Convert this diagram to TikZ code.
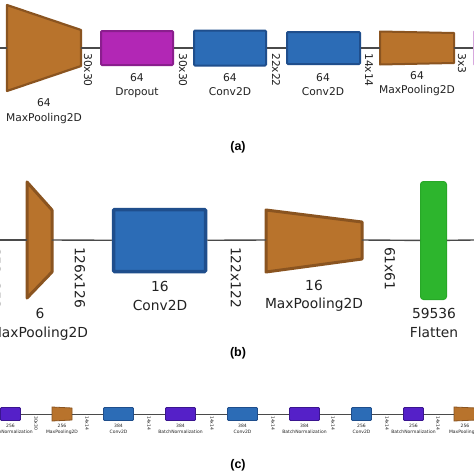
\documentclass[tikz,border=0pt]{standalone}
\usepackage{fontspec}
\setmainfont{DejaVu Sans}
\newfontfamily\capfont{Liberation Sans}
\definecolor{poolfill}{HTML}{B8732C}
\definecolor{pooldraw}{HTML}{8A5420}
\definecolor{convfill}{HTML}{2C6CB6}
\definecolor{convdraw}{HTML}{1F4E8C}
\definecolor{dropfill}{HTML}{B227B5}
\definecolor{dropdraw}{HTML}{8A1E8D}
\definecolor{flatfill}{HTML}{2DB52D}
\definecolor{flatdraw}{HTML}{28A828}
\definecolor{bnfill}{HTML}{5520C8}
\definecolor{bndraw}{HTML}{3A158F}
\definecolor{pinkfill}{HTML}{D8A8DE}
\definecolor{linegray}{HTML}{4A4A4A}
\definecolor{txt}{HTML}{222222}
\begin{document}
\begin{tikzpicture}[x=1pt,y=-1pt,
  lyr/.style={draw, inner sep=0pt, rounded corners=1pt},
  pool/.style={fill=poolfill, draw=pooldraw, line join=round},
  conv/.style={lyr, fill=convfill, draw=convdraw},
  drop/.style={lyr, fill=dropfill, draw=dropdraw},
  bn/.style={lyr, fill=bnfill, draw=bndraw},
  conA/.style={draw=linegray, line width=1.1pt},
  conB/.style={draw=linegray, line width=1.4pt},
  conC/.style={draw=linegray, line width=0.6pt},
  labA/.style={anchor=base, inner sep=0pt, text=txt, font=\fontsize{10.7}{12}\selectfont},
  labB/.style={anchor=base, inner sep=0pt, text=txt, font=\fontsize{13.8}{15}\selectfont},
  labC/.style={anchor=base, inner sep=0pt, text=txt, font=\fontsize{4.5}{5}\selectfont},
  dimA/.style={rotate=-90, anchor=west, inner sep=0pt, text=txt, font=\fontsize{10.7}{12}\selectfont},
  dimB/.style={rotate=-90, anchor=west, inner sep=0pt, text=txt, font=\fontsize{13.8}{15}\selectfont},
  dimC/.style={rotate=-90, anchor=west, inner sep=0pt, text=txt, font=\fontsize{4.5}{5}\selectfont},
  capt/.style={inner sep=0pt, font=\capfont\bfseries\fontsize{12.5}{14}\selectfont}]
\useasboundingbox (0,0) rectangle (474,474);
\fill[white] (0,0) rectangle (474,474);
\begin{scope}
\clip (0,0) rectangle (474,474);

% ---------------- panel (a) ----------------
\draw[pool, line width=2.2pt] (7,5) -- (81,30) -- (81,66) -- (7,91) -- cycle;
\coordinate (a1w) at (7,48);
\coordinate (a1e) at (81,48);
\node[drop, line width=2pt, minimum width=72pt, minimum height=34pt] (a2) at (137,48) {};
\node[conv, line width=2pt, minimum width=72pt, minimum height=35pt] (a3) at (230,48) {};
\node[conv, line width=2pt, minimum width=73pt, minimum height=32pt] (a4) at (323.5,48) {};
\draw[pool, line width=2pt] (380,31.5) -- (454,33) -- (454,63) -- (380,64.5) -- cycle;
\coordinate (a5w) at (380,48);
\coordinate (a5e) at (454,48);
\node[lyr, fill=pinkfill, draw=pinkfill, line width=2pt, minimum width=72pt, minimum height=34pt] (a6) at (510,48) {};
\coordinate (a0) at (0,48);
\draw[conA] (a0) -- (a1w);
\draw[conA] (a1e) -- (a2);
\draw[conA] (a2) -- (a3);
\draw[conA] (a3) -- (a4);
\draw[conA] (a4) -- (a5w);
\draw[conA] (a5e) -- (a6);

\node[dimA] (ad1) at (88,53) {30x30};
\node[dimA] (ad2) at (183,53) {30x30};
\node[dimA] (ad3) at (276,53) {22x22};
\node[dimA] (ad4) at (369,53) {14x14};
\node[dimA] (ad5) at (462,53) {3x3};

\node[labA] (a1t) at (44,106) {64};
\node[labA] (a1n) at (44,121) {MaxPooling2D};
\node[labA] (a2t) at (137,81) {64};
\node[labA] (a2n) at (137,95) {Dropout};
\node[labA] (a3t) at (230,81) {64};
\node[labA] (a3n) at (230,95) {Conv2D};
\node[labA] (a4t) at (323,81) {64};
\node[labA] (a4n) at (323,95) {Conv2D};
\node[labA] (a5t) at (417,79) {64};
\node[labA] (a5n) at (417,93) {MaxPooling2D};

\node[capt] (capa) at (238,147) {(a)};

% ---------------- panel (b) ----------------
\draw[pool, line width=3pt] (27,182) -- (52,210) -- (52,272) -- (27,298) -- cycle;
\coordinate (b1w) at (27,240);
\coordinate (b1e) at (52,240);
\node[conv, line width=3.5pt, minimum width=92pt, minimum height=62pt] (b2) at (159.5,240.5) {};
\draw[pool, line width=3pt] (266,210) -- (362,222) -- (362,259) -- (266,272) -- cycle;
\coordinate (b3w) at (266,240);
\coordinate (b3e) at (362,240);
\node[lyr, fill=flatfill, draw=flatdraw, line width=1pt, rounded corners=3pt, minimum width=26pt, minimum height=118pt] (b4) at (433.5,240.5) {};
\coordinate (b0) at (0,240);
\coordinate (b5) at (474,240);
\draw[conB] (b0) -- (b1w);
\draw[conB] (b1e) -- (b2);
\draw[conB] (b2) -- (b3w);
\draw[conB] (b3e) -- (b4);
\draw[conB] (b4) -- (b5);

\node[dimB, text=gray] (bd0) at (-4.5,248) {252x252};
\node[dimB] (bd1) at (80,247) {126x126};
\node[dimB] (bd2) at (236,247) {122x122};
\node[dimB] (bd3) at (390,247) {61x61};

\node[labB] (b1t) at (40,318) {6};
\node[labB] (b1n) at (39,337) {MaxPooling2D};
\node[labB] (b2t) at (160,291) {16};
\node[labB] (b2n) at (160,310) {Conv2D};
\node[labB] (b3t) at (314,290) {16};
\node[labB] (b3n) at (314,308) {MaxPooling2D};
\node[labB] (b4t) at (434,318) {59536};
\node[labB] (b4n) at (434,337) {Flatten};

\node[capt] (capb) at (238,353) {(b)};

% ---------------- panel (c) ----------------
\node[bn, line width=0.8pt, minimum width=20pt, minimum height=13pt] (c1) at (10.5,414) {};
\draw[pool, line width=0.8pt] (52,407) -- (72,408) -- (72,420) -- (52,421) -- cycle;
\coordinate (c2w) at (52,414);
\coordinate (c2e) at (72,414);
\node[conv, line width=0.8pt, minimum width=30pt, minimum height=13pt] (c3) at (118.5,414) {};
\node[bn, line width=0.8pt, minimum width=30pt, minimum height=13pt] (c4) at (180.5,414) {};
\node[conv, line width=0.8pt, minimum width=30pt, minimum height=13pt] (c5) at (242.5,414) {};
\node[bn, line width=0.8pt, minimum width=30pt, minimum height=13pt] (c6) at (304.5,414) {};
\node[conv, line width=0.8pt, minimum width=20pt, minimum height=13pt] (c7) at (361.5,414) {};
\node[bn, line width=0.8pt, minimum width=20pt, minimum height=13pt] (c8) at (413.5,414) {};
\draw[pool, line width=0.8pt] (454,407) -- (476,408) -- (476,420) -- (454,421) -- cycle;
\coordinate (c9w) at (454,414);
\draw[conC] (c1) -- (c2w);
\draw[conC] (c2e) -- (c3);
\draw[conC] (c3) -- (c4);
\draw[conC] (c4) -- (c5);
\draw[conC] (c5) -- (c6);
\draw[conC] (c6) -- (c7);
\draw[conC] (c7) -- (c8);
\draw[conC] (c8) -- (c9w);

\node[dimC] (cd1) at (36,416) {30x30};
\node[dimC] (cd2) at (87,416) {14x14};
\node[dimC] (cd3) at (149,416) {14x14};
\node[dimC] (cd4) at (212,416) {14x14};
\node[dimC] (cd5) at (273,416) {14x14};
\node[dimC] (cd6) at (333,416) {14x14};
\node[dimC] (cd7) at (387,416) {14x14};
\node[dimC] (cd8) at (438,416) {14x14};

\node[labC] (c1t) at (10.5,427.6) {256};
\node[labC] (c1n) at (10.5,433.6) {BatchNormalization};
\node[labC] (c2t) at (62,427.6) {256};
\node[labC] (c2n) at (62,433.6) {MaxPooling2D};
\node[labC] (c3t) at (118.5,427.6) {384};
\node[labC] (c3n) at (118.5,433.6) {Conv2D};
\node[labC] (c4t) at (180.5,427.6) {384};
\node[labC] (c4n) at (180.5,433.6) {BatchNormalization};
\node[labC] (c5t) at (242.5,427.6) {384};
\node[labC] (c5n) at (242.5,433.6) {Conv2D};
\node[labC] (c6t) at (304.5,427.6) {384};
\node[labC] (c6n) at (304.5,433.6) {BatchNormalization};
\node[labC] (c7t) at (361.5,427.6) {256};
\node[labC] (c7n) at (361.5,433.6) {Conv2D};
\node[labC] (c8t) at (413.5,427.6) {256};
\node[labC] (c8n) at (413.5,433.6) {BatchNormalization};
\node[labC] (c9t) at (465,427.6) {256};
\node[labC] (c9n) at (465,433.6) {MaxPooling2D};

\node[capt] (capc) at (238,465) {(c)};
\end{scope}
\end{tikzpicture}
\end{document}
